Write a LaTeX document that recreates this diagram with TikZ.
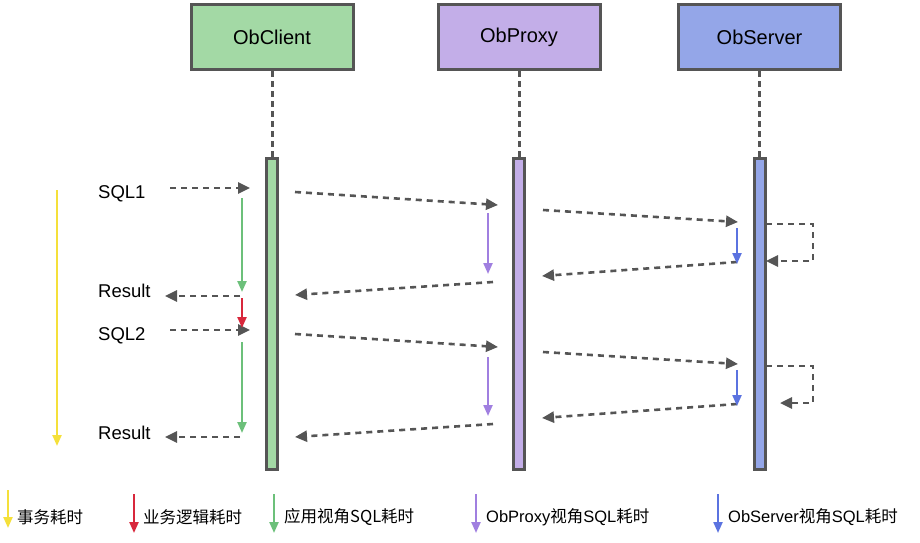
\documentclass[tikz,border=0pt]{standalone}
\usepackage{fontspec}
\setmainfont{Liberation Sans}
\newfontfamily\cjk{Noto Sans CJK SC}
\usetikzlibrary{arrows.meta}
\definecolor{lgreen}{HTML}{A3D9A5}
\definecolor{lpurple}{HTML}{C3AEE8}
\definecolor{lblue}{HTML}{94A6E8}
\definecolor{ayellow}{HTML}{F5E03A}
\definecolor{ared}{HTML}{D8283C}
\definecolor{agreen}{HTML}{6CC07A}
\definecolor{apurple}{HTML}{A07FE0}
\definecolor{ablue}{HTML}{5B73E0}
\definecolor{edge}{HTML}{555555}
\begin{document}
\begin{tikzpicture}[x=1pt,y=-1pt,
  head/.style={draw=edge,line width=3pt,minimum width=162pt,minimum height=65pt,font=\fontsize{20}{24}\selectfont},
  bar/.style={draw=edge,line width=3pt,minimum width=11pt,minimum height=311pt,inner sep=0pt},
  life/.style={edge,line width=3pt,dash pattern=on 6pt off 4pt},
  msg/.style={edge,line width=2.6pt,dash pattern=on 6pt off 5pt,-{Triangle[length=12pt,width=11pt]}},
  dur/.style={line width=2.2pt,-{Triangle[length=11pt,width=9pt]}},
  lbl/.style={anchor=west,inner sep=0pt,font=\fontsize{18.5}{22}\selectfont},
  leg/.style={anchor=west,inner sep=0pt,font=\fontsize{16.5}{20}\selectfont}]
\useasboundingbox (0,0) rectangle (920,542);
\node[head,fill=lgreen] (hc) at (272,37) {ObClient};
\node[head,fill=lpurple] (hp) at (519,37) {ObProxy};
\node[head,fill=lblue] (hs) at (759.5,37) {ObServer};
\node[bar,fill=lgreen] (bc) at (272,313.5) {};
\node[bar,fill=lpurple] (bp) at (519,313.5) {};
\node[bar,fill=lblue] (bs) at (759.5,313.5) {};
\draw[life] (hc.south) -- (bc.north);
\draw[life] (hp.south) -- (bp.north);
\draw[life] (hs.south) -- (bs.north);
% labels
\node[lbl] (s1) at (98,194) {SQL1};
\node[lbl] (r1) at (98,291) {Result};
\node[lbl] (s2) at (98,336) {SQL2};
\node[lbl] (r2) at (98,433) {Result};
% round 1
\coordinate (a1) at (170,188); \coordinate (a2) at (250,188);
\coordinate (a3) at (295,192); \coordinate (a4) at (498,205);
\coordinate (a5) at (543,210); \coordinate (a6) at (738,222);
\coordinate (a7) at (766,224); \coordinate (a8) at (766,261);
\coordinate (a9) at (737,262); \coordinate (a10) at (542,276);
\coordinate (a11) at (493,282); \coordinate (a12) at (295,295);
\coordinate (a13) at (240,296); \coordinate (a14) at (165,296);
\draw[msg] (a1) -- (a2);
\draw[msg] (a3) -- (a4);
\draw[msg] (a5) -- (a6);
\draw[msg] (a7) -- (813,224) -- (813,261) -- (a8);
\draw[msg] (a9) -- (a10);
\draw[msg] (a11) -- (a12);
\draw[msg] (a13) -- (a14);
% round 2
\coordinate (b1) at (170,330); \coordinate (b2) at (250,330);
\coordinate (b3) at (295,334); \coordinate (b4) at (498,347);
\coordinate (b5) at (543,352); \coordinate (b6) at (738,364);
\coordinate (b7) at (766,366); \coordinate (b8) at (780,403);
\coordinate (b9) at (737,404); \coordinate (b10) at (542,418);
\coordinate (b11) at (493,424); \coordinate (b12) at (295,437);
\coordinate (b13) at (240,437); \coordinate (b14) at (165,437);
\draw[msg] (b1) -- (b2);
\draw[msg] (b3) -- (b4);
\draw[msg] (b5) -- (b6);
\draw[msg] (b7) -- (813,366) -- (813,403) -- (b8);
\draw[msg] (b9) -- (b10);
\draw[msg] (b11) -- (b12);
\draw[msg] (b13) -- (b14);
% durations
\draw[dur,ayellow] (57,190) -- (57,446);
\draw[dur,agreen] (242,198) -- (242,292);
\draw[dur,ared] (242,298) -- (242,328);
\draw[dur,agreen] (242,342) -- (242,433);
\draw[dur,apurple] (488,213) -- (488,274);
\draw[dur,apurple] (488,357) -- (488,416);
\draw[dur,ablue] (737,228) -- (737,264);
\draw[dur,ablue] (737,370) -- (737,406);
% legend
\draw[dur,ayellow] (8,490) -- (8,528);
\node[leg] (l1) at (17,517) {\cjk 事务耗时};
\draw[dur,ared] (134,494) -- (134,533);
\node[leg] (l2) at (143,517) {\cjk 业务逻辑耗时};
\draw[dur,agreen] (274,494) -- (274,533);
\node[leg] (l3) at (284,517) {\cjk 应用视角SQL耗时};
\draw[dur,apurple] (476,494) -- (476,533);
\node[leg] (l4) at (486,517) {ObProxy{\cjk 视角}SQL{\cjk 耗时}};
\draw[dur,ablue] (718,494) -- (718,533);
\node[leg] (l5) at (728,517) {ObServer{\cjk 视角}SQL{\cjk 耗时}};
\end{tikzpicture}
\end{document}
